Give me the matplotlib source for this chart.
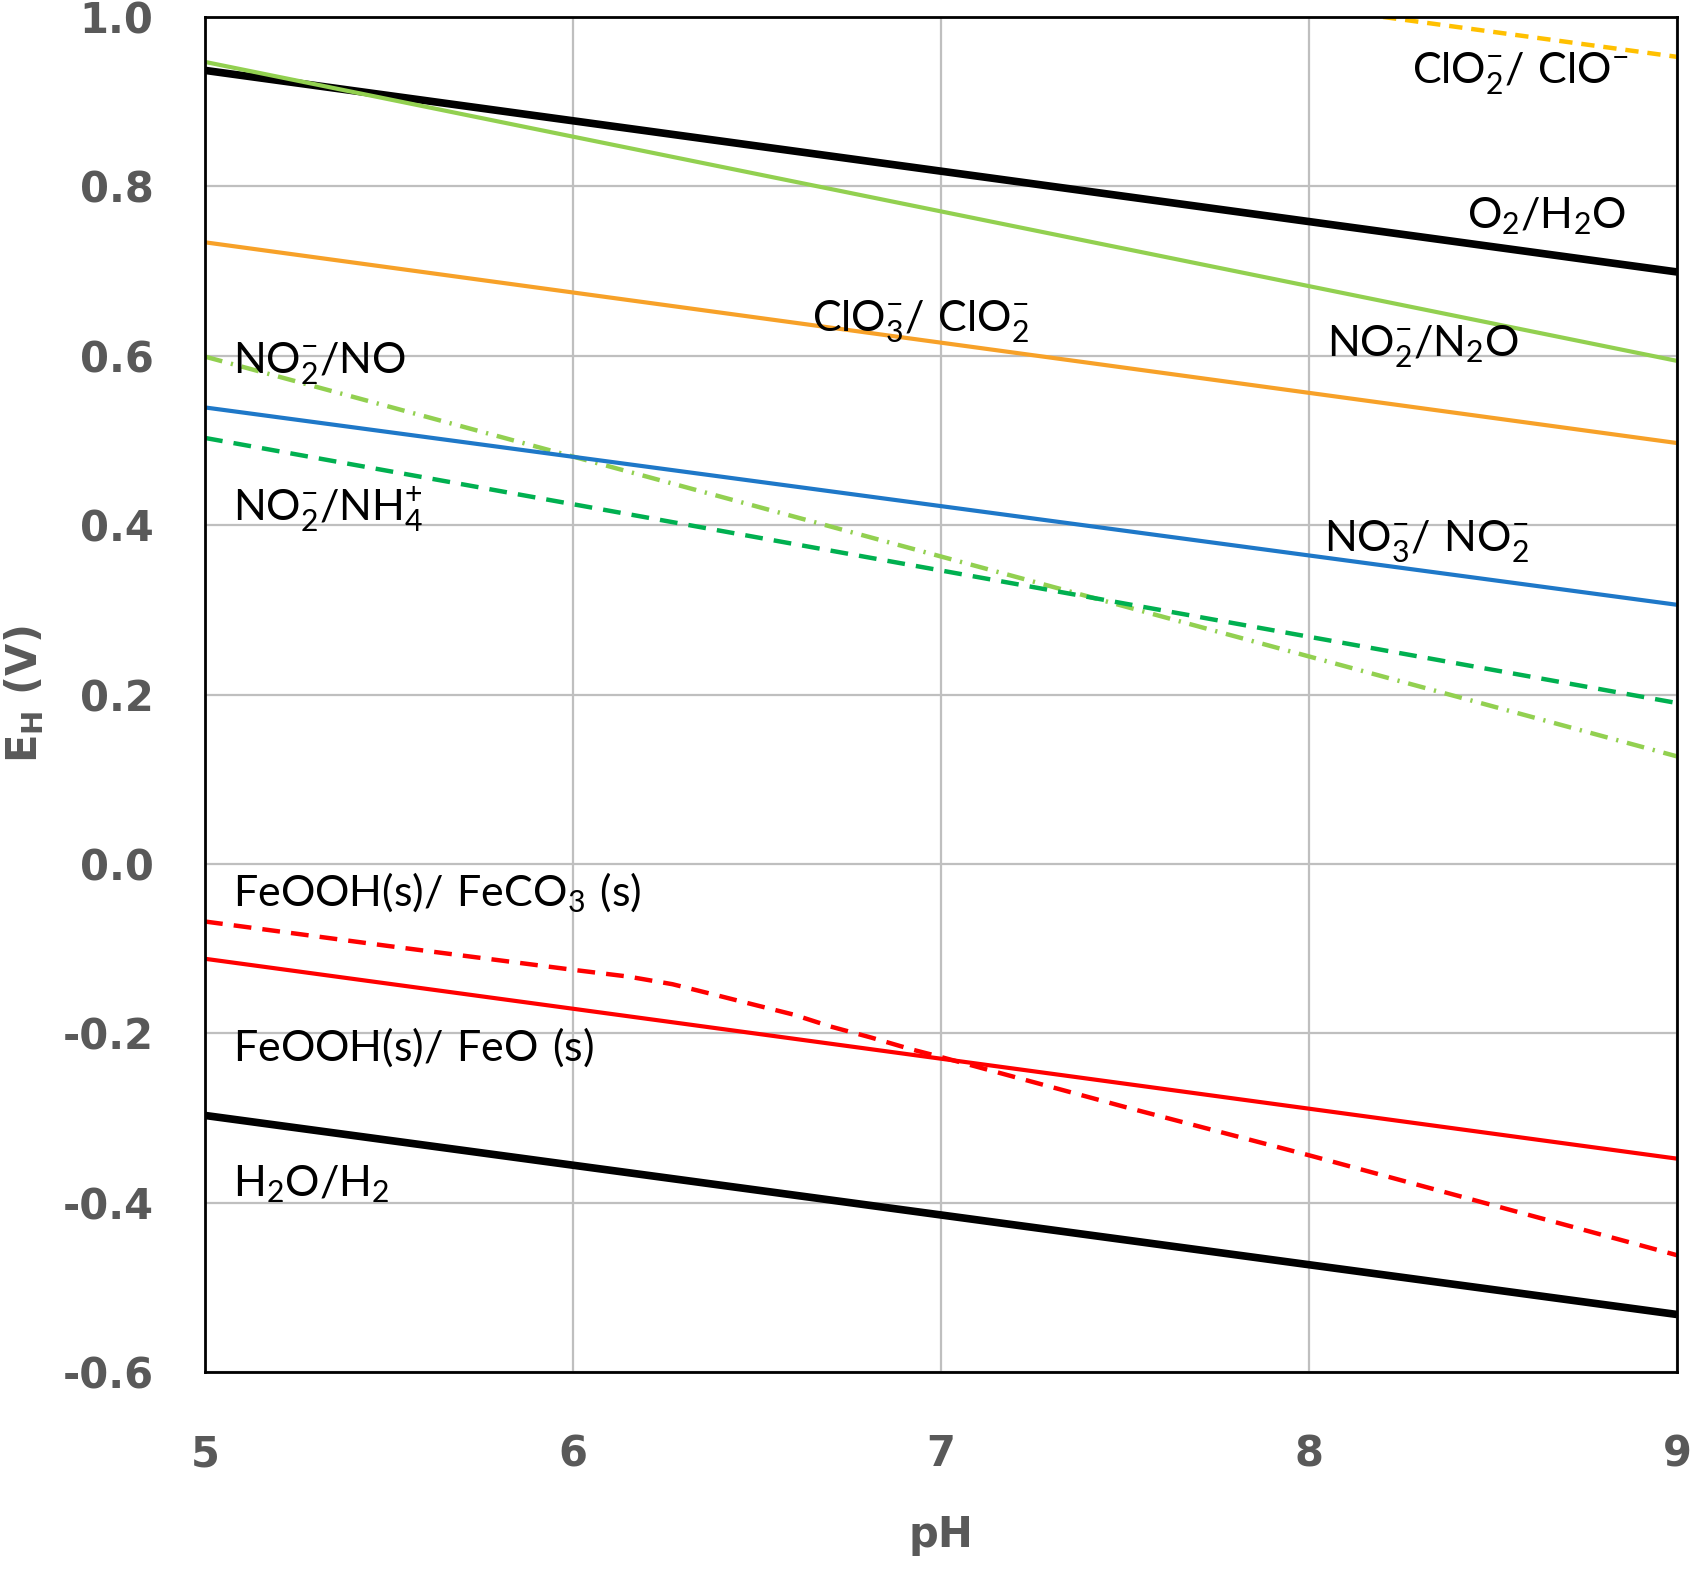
import numpy as np
import matplotlib
matplotlib.use("Agg")
import matplotlib.pyplot as plt

plt.rcParams['font.family'] = ['Lato', 'DejaVu Sans']
plt.rcParams['mathtext.fontset'] = 'custom'
plt.rcParams['mathtext.rm'] = 'Lato'
plt.rcParams['mathtext.bf'] = 'DejaVu Sans:bold'

# ---- data (pH, E_H in V) ----
ph_ends = [5, 9]
o2_h2o = [0.937, 0.699]
h2o_h2 = [-0.297, -0.532]
no2_n2o = [0.947, 0.594]
clo3_clo2 = [0.734, 0.497]
clo2_clo = [1.189, 0.953]
no2_no = [0.599, 0.127]
no3_no2 = [0.539, 0.306]
no2_nh4 = [0.503, 0.190]
feooh_feo = [-0.112, -0.348]

ph_feco3 = [5.0, 5.5, 6.0, 6.15, 6.27, 6.39, 6.49, 6.6, 6.7, 6.81, 6.92, 7.0, 7.5, 8.0, 8.5, 9.0]
feooh_feco3 = [-0.068, -0.097, -0.125, -0.133, -0.142, -0.155, -0.166, -0.178, -0.192,
               -0.205, -0.219, -0.228, -0.287, -0.344, -0.403, -0.462]

x_ticks = [5, 6, 7, 8, 9]
y_ticks = [-0.6, -0.4, -0.2, 0.0, 0.2, 0.4, 0.6, 0.8, 1.0]

labels = [
    (8.28, 0.941, r'$\mathregular{ClO_2^{-}/\ ClO^{-}}$'),
    (8.43, 0.770, r'$\mathregular{O_2/H_2O}$'),
    (6.65, 0.648, r'$\mathregular{ClO_3^{-}/\ ClO_2^{-}}$'),
    (8.05, 0.619, r'$\mathregular{NO_2^{-}/N_2O}$'),
    (5.075, 0.599, r'$\mathregular{NO_2^{-}/NO}$'),
    (5.075, 0.425, r'$\mathregular{NO_2^{-}/NH_4^{+}}$'),
    (8.04, 0.388, r'$\mathregular{NO_3^{-}/\ NO_2^{-}}$'),
    (5.075, -0.031, r'$\mathregular{FeOOH(s)/\ FeCO_3\ (s)}$'),
    (5.075, -0.213, r'$\mathregular{FeOOH(s)/\ FeO\ (s)}$'),
    (5.075, -0.374, r'$\mathregular{H_2O/H_2}$'),
]

fig = plt.figure(figsize=(17.06, 15.78), dpi=100)
ax = fig.add_axes([0.1202, 0.1305, 0.8628, 0.8587])

ax.plot(ph_ends, clo2_clo, color='#FFC000', lw=3.2, ls=(0, (3, 2)))
ax.plot(ph_ends, o2_h2o, color='black', lw=5.5, solid_capstyle='butt')
ax.plot(ph_ends, no2_n2o, color='#92D050', lw=3.0, solid_capstyle='butt')
ax.plot(ph_ends, clo3_clo2, color='#F7A128', lw=3.0, solid_capstyle='butt')
ax.plot(ph_ends, no2_no, color='#92D050', lw=3.2, ls=(0, (4, 2, 0.5, 2)))
ax.plot(ph_ends, no3_no2, color='#1E78C8', lw=3.0, solid_capstyle='butt')
ax.plot(ph_ends, no2_nh4, color='#00B050', lw=3.2, ls=(0, (4, 2.5)))
ax.plot(ph_feco3, feooh_feco3, color='#FF0000', lw=3.2, ls=(0, (4, 2.5)))
ax.plot(ph_ends, feooh_feo, color='#FF0000', lw=3.0, solid_capstyle='butt')
ax.plot(ph_ends, h2o_h2, color='black', lw=5.5, solid_capstyle='butt')

for x, y, t in labels:
    ax.text(x, y - 0.019, t, fontsize=31, color='black', ha='left', va='baseline')

ax.set_xlim(5, 9)
ax.set_ylim(-0.6, 1.0)
ax.set_xticks(x_ticks)
ax.set_yticks(y_ticks)
ax.set_xticklabels([str(v) for v in x_ticks])
ax.set_yticklabels([f'{v:.1f}' for v in y_ticks])
ax.grid(True, color='#BFBFBF', lw=1.6)
ax.set_axisbelow(True)
for s in ax.spines.values():
    s.set_color('black')
    s.set_linewidth(2.0)
ax.tick_params(length=0, labelsize=30, labelcolor='#595959', pad=37)
for lab in ax.get_xticklabels() + ax.get_yticklabels():
    lab.set_fontweight('bold')
    lab.set_family('DejaVu Sans')
ax.tick_params(axis='x', pad=44)

ax.set_xlabel('pH', fontsize=30, fontweight='bold', color='#595959', family='DejaVu Sans', labelpad=28)
ax.set_ylabel(r'$\mathbf{E_H}$ (V)', fontsize=30, fontweight='bold', color='#595959', family='DejaVu Sans', labelpad=12)

fig.savefig('out.png', dpi=100)
